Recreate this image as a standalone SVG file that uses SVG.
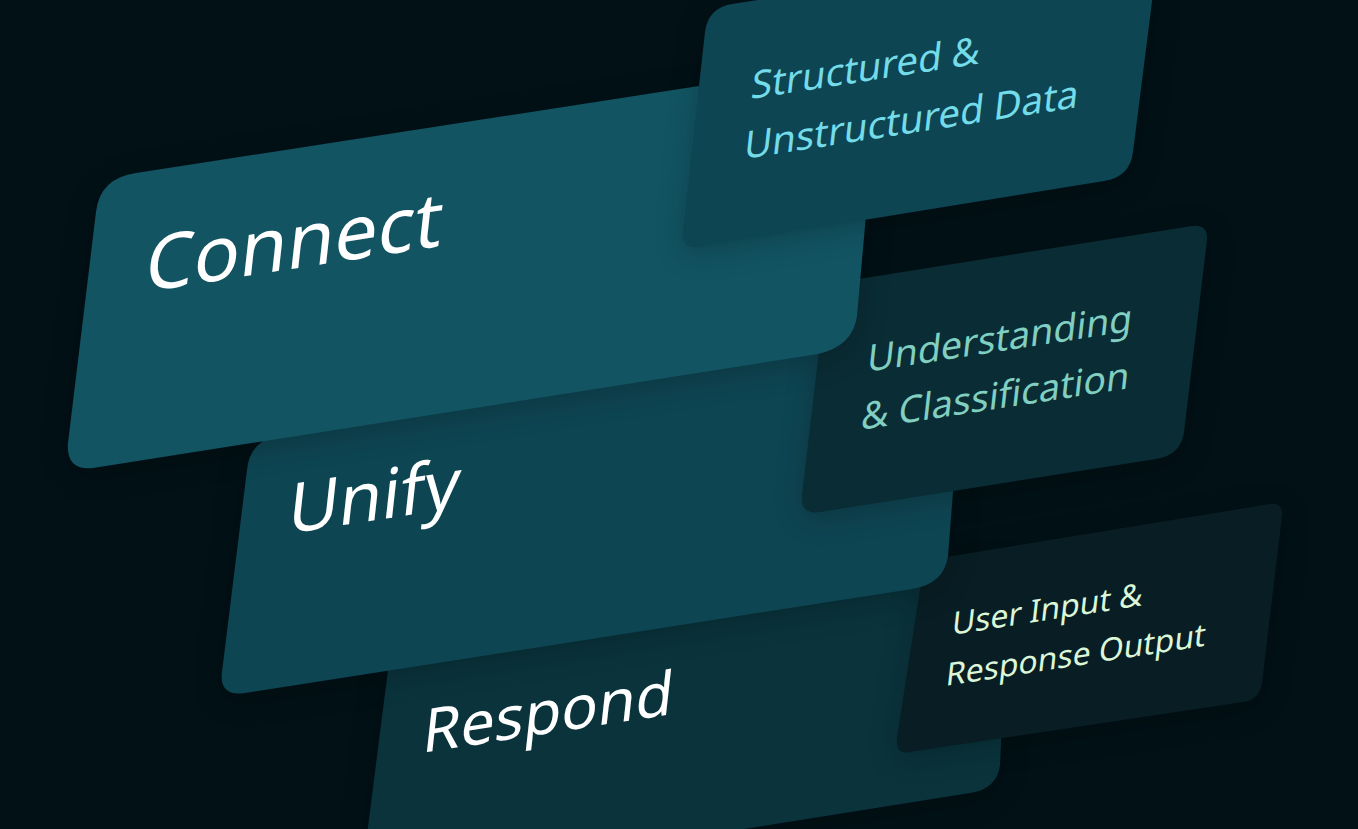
<svg xmlns="http://www.w3.org/2000/svg" width="1358" height="829" viewBox="0 0 1358 829">
<defs>
<filter id="shadow" x="-20%" y="-20%" width="140%" height="140%" color-interpolation-filters="sRGB"><feDropShadow dx="0" dy="6" stdDeviation="14" flood-color="#000" flood-opacity="0.2"/></filter>
</defs>
<style>
.card{filter:url(#shadow)}
text{font-family:"Noto Sans","Open Sans",sans-serif}
.main{fill:#fff}
.c1{fill:#125462}.c2{fill:#0e4552}.c3{fill:#0a333c}.s1{fill:#0e4552}.s2{fill:#0a2c34}.s3{fill:#081e24}
.t1{fill:#74dbe9;font-size:38.8px}.t2{fill:#80cfc0;font-size:38px}.t3{fill:#dcf6d8;font-size:32.2px}
</style>
<rect width="1358" height="829" fill="#021116"/>
<g id="connectors"/>
<g id="respond">
<path class="card c3" d="M392,640 L1010,560 L1000,765 Q997,789 970,793 L360,890 L388,670Z"/>
<text class="main" font-size="61.5" transform="matrix(0.988 -0.153 -0.11 0.994 421 753)">Respond</text>
</g>
<g id="user-input">
<path class="card s3" d="M940,558 L1270,504 Q1283,502 1282,516 L1262,683 Q1259,700 1243,702 L910,752 Q895,755 897,738 L923,570 Q925,560 940,558Z"/>
<text class="t3" transform="matrix(0.988 -0.153 -0.11 0.994 951 635)">User Input &amp;</text>
<text class="t3" transform="matrix(0.988 -0.153 -0.11 0.994 945 686)">Response Output</text>
</g>
<g id="unify">
<path class="card c2" d="M280,435 L968,300 L948,556 Q944,584 912,589 L245,693 Q219,697 222,672 L247,470 Q250,440 280,435Z"/>
<text class="main" font-size="70.5" transform="matrix(0.988 -0.153 -0.11 0.994 286 534)">Unify</text>
</g>
<g id="understanding">
<path class="card s2" d="M840,282 L1192,226 Q1208,224 1207,240 L1184,432 Q1181,455 1156,459 L820,512 Q800,515 802,495 L825,300 Q827,284 840,282Z"/>
<text class="t2" transform="matrix(0.988 -0.153 -0.11 0.994 866 372)">Understanding</text>
<text class="t2" transform="matrix(0.988 -0.153 -0.11 0.994 860 430)">&amp; Classification</text>
</g>
<g id="connect">
<path class="card c1" d="M136,173 L880,58 L857,316 Q853,346 818,354 L93,468 Q66,471 68,443 L96,212 Q100,178 136,173Z"/>
<text class="main" font-size="77.5" transform="matrix(0.988 -0.153 -0.11 0.994 143 292)">Connect</text>
</g>
<g id="structured">
<path class="card s1" d="M732,4 L1160,-62 L1133,152 Q1130,177 1104,181 L697,247 Q681,249 683,230 L705,32 Q708,8 732,4Z"/>
<text class="t1" transform="matrix(0.988 -0.153 -0.11 0.994 750 99)">Structured &amp;</text>
<text class="t1" transform="matrix(0.988 -0.153 -0.11 0.994 743 159)">Unstructured Data</text>
</g>
</svg>
